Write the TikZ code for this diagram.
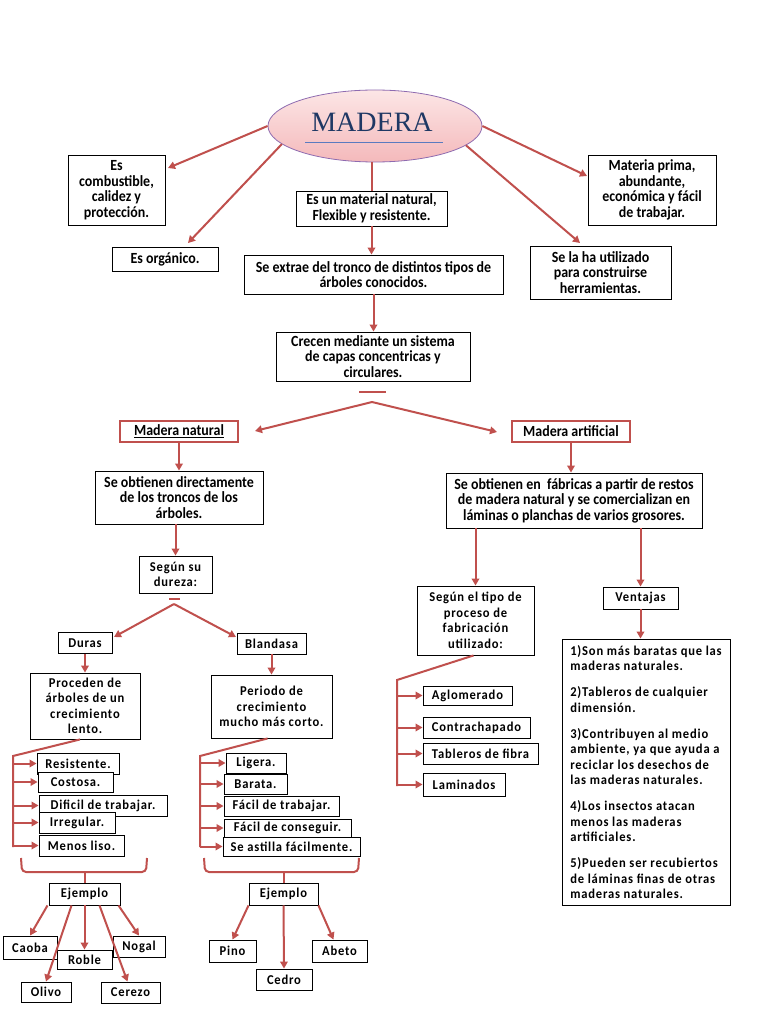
\documentclass[tikz,border=0pt]{standalone}
\usepackage{fontspec}
\usetikzlibrary{arrows.meta,shapes.geometric}
\setmainfont{Carlito}
\newfontfamily\upf[FakeStretch=0.9]{Carlito}
\newfontfamily\lof[FakeStretch=0.93,LetterSpace=6]{Carlito}
\newfontfamily\titf{Liberation Serif}
\newcommand\myup{\upf\bfseries\fontsize{15.5}{15.5}\selectfont}
\newcommand\mylo{\lof\bfseries\fontsize{13.5}{15.5}\selectfont}
\definecolor{arrred}{HTML}{C0504D}
\definecolor{ellb}{HTML}{8E6BB0}
\definecolor{titc}{HTML}{1F3864}
\definecolor{ulc}{HTML}{5B7BC0}
\definecolor{pkTop}{HTML}{FCE6E6}
\definecolor{pkBot}{HTML}{F4B9BB}
\begin{document}
\begin{tikzpicture}[x=1pt,y=-1pt,
  bx/.style={draw=black,line width=0.9pt,fill=white,inner sep=0pt,align=center},
  up/.style={bx,font=\myup},
  lo/.style={bx,font=\mylo},
  rbx/.style={draw=arrred,line width=1.8pt,fill=white,inner sep=0pt,font=\myup},
  redl/.style={draw=arrred,line width=2pt},
  arr/.style={redl,-{Triangle[length=7pt,width=7.5pt]}}]
\fill[white] (0,0) rectangle (768,1024);
\useasboundingbox (0,0) rectangle (768,1024);

% ---------- top ----------
\node[ellipse,draw=ellb,line width=0.8pt,top color=pkTop,bottom color=pkBot,
      minimum width=214,minimum height=72,inner sep=0pt] (e) at (375,126) {};
\node[font=\titf\fontsize{28}{30}\selectfont,text=titc,inner sep=0pt] (title) at (372,122) {MADERA};
\draw[ulc,line width=0.8pt] (305,142) -- (443,142);

\node[up,minimum width=97,minimum height=70] (b1) at (116.5,190) {Es\\combustible,\\calidez y\\protección.};
\node[up,minimum width=106,minimum height=24] (b2) at (165,259) {Es orgánico.};
\node[up,minimum width=151,minimum height=35] (b3) at (371.5,208.5) {Es un material natural,\\Flexible y resistente.};
\node[up,minimum width=259,minimum height=39] (b4) at (373.5,274.5) {Se extrae del tronco de distintos tipos de\\árboles conocidos.};
\node[up,minimum width=128,minimum height=70] (b5) at (652,190) {Materia prima,\\abundante,\\económica y fácil\\de trabajar.};
\node[up,minimum width=141,minimum height=53] (b6) at (600.5,272.5) {Se la ha utilizado\\para construirse\\herramientas.};
\node[up,minimum width=194,minimum height=49] (b7) at (373,356.5) {Crecen mediante un sistema\\de capas concentricas y\\circulares.};

\node[rbx,minimum width=118,minimum height=21] (mn) at (179,431.5) {\underline{Madera natural}};
\node[rbx,minimum width=118,minimum height=21] (ma) at (571,431.5) {Madera artificial};

\node[up,minimum width=168,minimum height=53] (sn) at (179,497.5) {Se obtienen directamente\\de los troncos de los\\árboles.};
\node[up,minimum width=256,minimum height=55] (sa) at (574,500.5) {Se obtienen en\ \ fábricas a partir de restos\\de madera natural y se comercializan en\\láminas o planchas de varios grosores.};

% ---------- left lower ----------
\node[lo,minimum width=73,minimum height=37] (dz) at (175.5,574.5) {Según su\\dureza:};
\node[lo,minimum width=54,minimum height=21] (du) at (85,643) {Duras};
\node[lo,minimum width=69,minimum height=21] (bl) at (271.5,643.5) {Blandasa};
\node[lo,minimum width=110,minimum height=66] (pr) at (85,706) {Proceden de\\árboles de un\\crecimiento\\lento.};
\node[lo,minimum width=121,minimum height=63] (pe) at (271.5,706.5) {Periodo de\\crecimiento\\mucho más corto.};

\node[lo,minimum width=82,minimum height=21] (i1) at (78,763.5) {Resistente.};
\node[lo,minimum width=75,minimum height=20] (i2) at (75.5,782) {Costosa.};
\node[lo,minimum width=128,minimum height=21] (i3) at (103,805.5) {Dificil de trabajar.};
\node[lo,minimum width=76,minimum height=21] (i4) at (77,822.5) {Irregular.};
\node[lo,minimum width=85,minimum height=21] (i5) at (81.5,845.5) {Menos liso.};

\node[lo,minimum width=60,minimum height=20] (j1) at (256,763) {Ligera.};
\node[lo,minimum width=63,minimum height=20] (j2) at (255.5,784) {Barata.};
\node[lo,minimum width=115,minimum height=20] (j3) at (281.5,806) {Fácil de trabajar.};
\node[lo,minimum width=127,minimum height=18] (j4) at (287.5,828) {Fácil de conseguir.};
\node[lo,minimum width=137,minimum height=19] (j5) at (291.5,846.5) {Se astilla fácilmente.};

\node[lo,minimum width=71,minimum height=22] (ej1) at (84.5,894) {Ejemplo};
\node[lo,minimum width=69,minimum height=22] (ej2) at (283.5,894) {Ejemplo};

\node[lo,minimum width=54,minimum height=23] (caoba) at (30,947.5) {Caoba};
\node[lo,minimum width=52,minimum height=21] (nogal) at (139,946.5) {Nogal};
\node[lo,minimum width=55,minimum height=19] (roble) at (84.5,959.5) {Roble};
\node[lo,minimum width=50,minimum height=20] (olivo) at (46,992) {Olivo};
\node[lo,minimum width=59,minimum height=21] (cerezo) at (130.5,992.5) {Cerezo};
\node[lo,minimum width=47,minimum height=22] (pino) at (232.5,951) {Pino};
\node[lo,minimum width=56,minimum height=21] (cedro) at (284,979.5) {Cedro};
\node[lo,minimum width=55,minimum height=22] (abeto) at (339.5,951) {Abeto};

% ---------- right lower ----------
\node[lo,minimum width=117,minimum height=69] (tipo) at (475.5,620.5) {Según el tipo de\\proceso de\\fabricación\\utilizado:};
\node[lo,minimum width=75,minimum height=22] (vent) at (640.5,598) {Ventajas};
\node[lo,minimum width=168,minimum height=266,align=left] (adv) at (646,772)
 {1)Son más baratas que las\\maderas naturales.\\[10.5pt]
  2)Tableros de cualquier\\dimensión.\\[10.5pt]
  3)Contribuyen al medio\\ambiente, ya que ayuda a\\reciclar los desechos de\\las maderas naturales.\\[10.5pt]
  4)Los insectos atacan\\menos las maderas\\artificiales.\\[10.5pt]
  5)Pueden ser recubiertos\\de láminas finas de otras\\maderas naturales.};
\node[lo,minimum width=89,minimum height=19] (ag) at (467.5,695.5) {Aglomerado};
\node[lo,minimum width=107,minimum height=21] (co) at (476.5,727.5) {Contrachapado};
\node[lo,minimum width=115,minimum height=21] (tf) at (480.5,753.5) {Tableros de fibra};
\node[lo,minimum width=82,minimum height=23] (la) at (464,784.5) {Laminados};

% ---------- connectors ----------
\coordinate (t1) at (168,168);
\coordinate (t2) at (188,243);
\coordinate (t5) at (587,176);
\coordinate (t6) at (580,243);
\draw[arr] (e.180) -- (t1);
\draw[arr] (e.191) -- (t2);
\draw[arr] (e.0) -- (t5);
\draw[arr] (e.348) -- (t6);
\draw[redl] (b3.north |- e.south) -- (b3.north);
\draw[arr] (b3.south) -- (b3.south |- b4.north);
\draw[arr] (b4.south) -- (b4.south |- b7.north);

\draw[redl] (359,392) -- (386,392);
\coordinate (cA) at (372,402);
\coordinate (tmn) at (255,431);
\coordinate (tma) at (497,432);
\draw[arr] (cA) -- (tmn);
\draw[arr] (cA) -- (tma);

\draw[arr] (mn.south) -- (mn.south |- sn.north);
\draw[arr] (ma.south) -- (ma.south |- sa.north);
\draw[arr] (dz.north |- sn.south) -- (dz.north);
\draw[arr] (tipo.north |- sa.south) -- (tipo.north);
\draw[arr] (vent.north |- sa.south) -- (vent.north);

\draw[redl] (169,599) -- (180,599);
\coordinate (cB) at (174,604);
\coordinate (tdu) at (114,637);
\coordinate (tbl) at (236,637);
\draw[arr] (cB) -- (tdu);
\draw[arr] (cB) -- (tbl);
\draw[arr] (du.south) -- (du.south |- pr.north);
\draw[arr] (bl.south) -- (bl.south |- pe.north);

% brackets
\coordinate (lx) at (13,0);
\draw[redl] ([xshift=-5pt]pr.south) -- (13,756) -- (13,847);
\foreach \n in {i1,i2,i3,i4,i5} \draw[arr] (\n.west -| lx) -- (\n.west);
\coordinate (rx) at (200,0);
\draw[redl] ([xshift=-4pt]pe.south) -- (200,756) -- (200,847);
\foreach \n in {j1,j2,j3,j4,j5} \draw[arr] (\n.west -| rx) -- (\n.west);
\coordinate (tx) at (397,0);
\draw[redl] ([xshift=-2pt]tipo.south) -- (397,680) -- (397,786);
\foreach \n in {ag,co,tf,la} \draw[arr] (\n.west -| tx) -- (\n.west);
\draw[arr] (vent.south) -- (vent.south |- adv.north);

% braces
\coordinate (br1) at (84.5,872);
\draw[redl,rounded corners=4pt] (21,858) -- (22,872) -- (146,872) -- (147,858);
\draw[redl] (br1) -- (ej1.north);
\coordinate (br2) at (283.5,872);
\draw[redl,rounded corners=4pt] (204,858) -- (205,872) -- (358,872) -- (359,858);
\draw[redl] (br2) -- (ej2.north);

% examples
\draw[arr] ([xshift=-37pt]ej1.south) -- (caoba.north);
\draw[arr] ([xshift=-13pt]ej1.south) -- (olivo.north);
\draw[arr] (ej1.south) -- (roble.north);
\draw[arr] ([xshift=15pt]ej1.south) -- ([xshift=-3pt]cerezo.north);
\draw[arr] ([xshift=34pt]ej1.south) -- (nogal.north);
\draw[arr] ([xshift=-35pt]ej2.south) -- (pino.north);
\draw[arr] (ej2.south) -- (cedro.north);
\draw[arr] ([xshift=35pt]ej2.south) -- ([xshift=-6pt]abeto.north);
\end{tikzpicture}
\end{document}
